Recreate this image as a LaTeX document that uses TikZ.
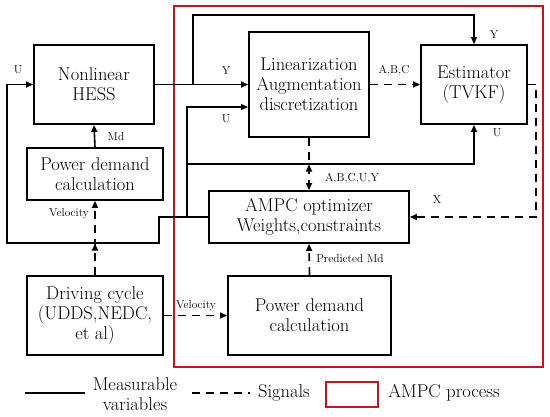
\documentclass[tikz,border=0pt]{standalone}
\usepackage{tikz}
\usetikzlibrary{calc,arrows.meta}
\definecolor{ampcred}{RGB}{200,18,30}
\tikzset{
	blk/.style={draw, line width=1.9pt, align=center, inner sep=0pt,
		font=\fontsize{18.5}{20}\selectfont},
	lbl/.style={font=\fontsize{11.5}{13}\selectfont, inner sep=1pt},
	wire/.style={line width=1.6pt},
	sig/.style={line width=1.6pt, dash pattern=on 8pt off 6pt},
	tip/.style={-{Triangle[length=7pt,width=6pt]}},
}

\begin{document}
\begin{tikzpicture}[x=1pt, y=-1pt]
			%%%%% START %%%%%
			\useasboundingbox (0,0) rectangle (550,416);
			
			% AMPC process frame
			\draw[line width=1.5pt, color=ampcred] (174,6) rectangle (543,367);
			
			% blocks
			\node[blk, minimum width=120pt, minimum height=79pt] (hess) at (94,84.5) {Nonlinear\\HESS};
			\node[blk, minimum width=136pt, minimum height=52pt] (pdemL) at (95,174) {Power demand\\calculation};
			\node[blk, minimum width=120pt, minimum height=105pt] (lin) at (309,84.5) {Linearization\\Augmentation\\discretization};
			\node[blk, minimum width=106pt, minimum height=79pt] (est) at (474,84.5) {Estimator\\(TVKF)};
			\node[blk, minimum width=200pt, minimum height=52pt] (ampc) at (309,217) {AMPC optimizer\\Weights,constraints};
			\node[blk, minimum width=136pt, minimum height=79pt] (drive) at (95,315.5) {Driving cycle\\(UDDS,NEDC,\\et al)};
			\node[blk, minimum width=163pt, minimum height=79pt] (pdemR) at (309.5,315.5) {Power demand\\calculation};
			
			% junctions and corners
			\coordinate (ysplit) at (193,84.5);
			\coordinate (ytop) at (193,15);
			\coordinate (usplit) at (187,217);
			\coordinate (ulin) at ($(lin.west)+(0,22.5)$);
			\coordinate (uest) at (187,164);
			\coordinate (uback) at (159,217);
			\coordinate (uleft) at (7,243);
			\coordinate (xcorner) at (536,84.5);
			
			% measurable variables
			\draw[wire, tip] (hess.east) -- (lin.west);
			\draw[wire, tip] (ysplit) -- (ytop) -| (est.north);
			\draw[wire, tip] (ampc.west) -- (uback) |- (uleft) |- (hess.west);
			\draw[wire, tip] (usplit) |- (ulin);
			\draw[wire, tip] (uest) -| (est.south);
			\draw[wire, tip] (pdemL.north) -- (hess.south);
			
			% signals
			\draw[sig, tip] (lin.east) -- (est.west);
			\draw[sig, tip] (lin.south) -- (ampc.north);
			\draw[sig, tip] (est.east) -- (xcorner) |- (ampc.east);
			\draw[sig, tip] (pdemR.north) -- (ampc.south);
			\draw[sig, tip] (drive.north) -- (pdemL.south);
			\draw[sig, tip] (drive.east) -- (pdemR.west);
			
			% small tips where the signals cross the U line
			\draw[wire, tip] (95,249) -- (95,243.5);
			\draw[wire, tip] (309,170) -- (309,164.5);
			
			% labels
			\node[lbl] (lU) at (18,70) {U};
			\node[lbl] (lY) at (226,71) {Y};
			\node[lbl] (lUlin) at (226,119) {U};
			\node[lbl] (lMd) at (116,137) {Md};
			\node[lbl] (lYest) at (494,35) {Y};
			\node[lbl] (lUest) at (497,133) {U};
			\node[lbl] (lABC) at (394,71) {A,B,C};
			\node[lbl] (lABCUY) at (352,178) {A,B,C,U,Y};
			\node[lbl] (lX) at (437,200) {X};
			\node[lbl] (lvelL) at (69,214) {Velocity};
			\node[lbl] (lvelR) at (196,306) {Velocity};
			\node[lbl] (lpred) at (350,259) {Predicted Md};
			
			% legend
			\draw[wire] (25,393) -- (85,393);
			\node[align=center, font=\fontsize{18.5}{20}\selectfont] (legMeas) at (135,394) {Measurable\\variables};
			\draw[sig] (192,393) -- (250,393);
			\node[font=\fontsize{18.5}{20}\selectfont] (legSig) at (284,393) {Signals};
			\draw[line width=1.5pt, color=ampcred] (326,382) rectangle (378,407);
			\node[font=\fontsize{18.5}{20}\selectfont] (legAMPC) at (444,393) {AMPC process};
			
			%%%%% END %%%%%
\end{tikzpicture}
\end{document}
